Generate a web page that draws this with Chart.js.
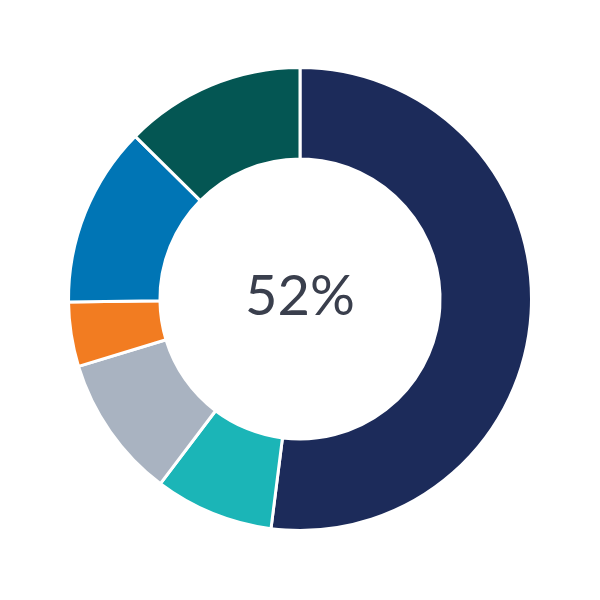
<!DOCTYPE html>
<html>
  <head>
    <title>Doughnut</title>
    <script src="https://cdn.jsdelivr.net/npm/chart.js@4/dist/chart.umd.min.js"></script>
    <style>
      body { margin: 0; background: #fff; }
      #wrap { width: 600px; height: 600px; }
    </style>
  </head>
  <body>
    <div id="wrap"><canvas id="myChart" width="600" height="600"></canvas></div>

    <script>
      var labels = ["A", "B", "C", "D", "E", "F"];
      var values = [52, 8.3, 10, 4.5, 12.6, 12.6];
      var colors = ["#1c2b5a", "#1bb5b7", "#a9b3c1", "#f27c21", "#0075b5", "#045653"];
      var centerLabel = "52%";

      var centerText = {
        id: "centerText",
        afterDraw: function (chart) {
          var ctx = chart.ctx;
          var meta = chart.getDatasetMeta(0).data[0];
          ctx.save();
          ctx.font = "56px Lato";
          ctx.fillStyle = "#3a3f4d";
          ctx.textAlign = "center";
          ctx.textBaseline = "middle";
          ctx.fillText(centerLabel, meta.x, meta.y - 2);
          ctx.restore();
        },
      };

      var ctx = document.getElementById("myChart").getContext("2d");
      var myChart = new Chart(ctx, {
        type: "doughnut",
        data: {
          labels: labels,
          datasets: [
            {
              data: values,
              backgroundColor: colors,
              borderColor: "#ffffff",
              borderWidth: 3,
            },
          ],
        },
        options: {
          responsive: false,
          animation: false,
          cutout: "60.5%",
          layout: { padding: { left: 67, right: 67, top: 66, bottom: 68 } },
          plugins: {
            legend: { display: false },
            tooltip: { enabled: false },
          },
        },
        plugins: [centerText],
      });
    </script>
  </body>
</html>
